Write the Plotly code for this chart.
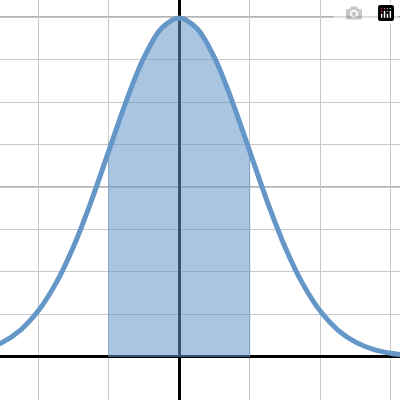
import plotly.graph_objects as go

# values (standard normal shape)
x_vals = [-3.0, -2.75, -2.5, -2.25, -2.0, -1.75, -1.5, -1.25, -1.0, -0.75, -0.5, -0.25, 0.0,
          0.25, 0.5, 0.75, 1.0, 1.25, 1.5, 1.75, 2.0, 2.25, 2.5, 2.75, 3.0, 3.25]
y_vals = [0.0044, 0.0091, 0.0175, 0.0317, 0.054, 0.0863, 0.1295, 0.1826, 0.242, 0.3011, 0.3521, 0.3867, 0.3989,
          0.3867, 0.3521, 0.3011, 0.242, 0.1826, 0.1295, 0.0863, 0.054, 0.0317, 0.0175, 0.0091, 0.0044, 0.002]
shade_lo, shade_hi = -1.0, 1.0

sx = [x for x in x_vals if shade_lo <= x <= shade_hi]
sy = [y for x, y in zip(x_vals, y_vals) if shade_lo <= x <= shade_hi]

fig = go.Figure()
fig.add_trace(go.Scatter(x=sx, y=sy, mode="lines", fill="tozeroy",
                         line=dict(width=0, shape="spline"),
                         fillcolor="rgba(100,150,200,0.55)", hoverinfo="skip"))
fig.add_trace(go.Scatter(x=[shade_lo, shade_lo], y=[0, sy[0]], mode="lines",
                         line=dict(color="rgba(100,150,200,0.6)", width=1)))
fig.add_trace(go.Scatter(x=[shade_hi, shade_hi], y=[0, sy[-1]], mode="lines",
                         line=dict(color="rgba(100,150,200,0.6)", width=1)))
fig.add_trace(go.Scatter(x=x_vals, y=y_vals, mode="lines",
                         line=dict(color="rgb(100,150,200)", width=5, shape="spline")))

# major grid lines
for yv in [0.2, 0.4]:
    fig.add_hline(y=yv, line=dict(color="rgb(105,105,105)", width=1), layer="below")

fig.update_layout(
    width=400, height=400, margin=dict(l=0, r=0, t=0, b=0),
    plot_bgcolor="white", paper_bgcolor="white", showlegend=False,
    xaxis=dict(range=[-2.54, 3.13], dtick=1, showgrid=True, gridcolor="rgb(200,200,200)",
               gridwidth=1, zeroline=True, zerolinecolor="black", zerolinewidth=2.5,
               showticklabels=False, fixedrange=True),
    yaxis=dict(range=[-0.0506, 0.42], dtick=0.05, showgrid=True, gridcolor="rgb(200,200,200)",
               gridwidth=1, zeroline=True, zerolinecolor="black", zerolinewidth=2.5,
               showticklabels=False, fixedrange=True),
)
fig.write_html("out.html", post_script="document.body.style.margin='0';")
